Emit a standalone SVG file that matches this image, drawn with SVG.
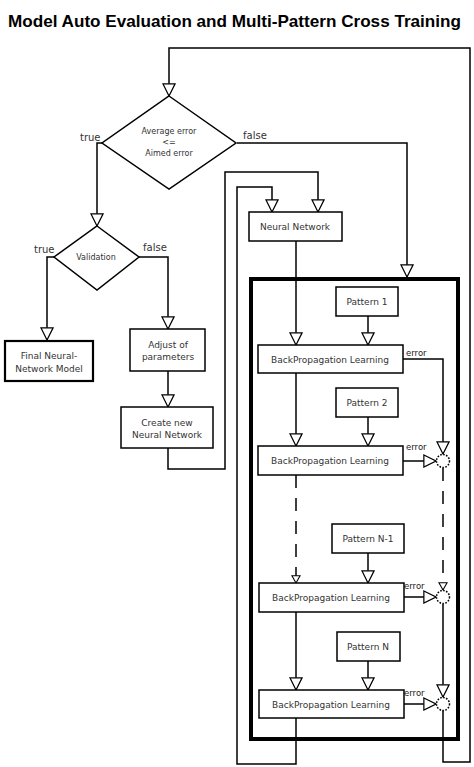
<svg xmlns="http://www.w3.org/2000/svg" width="474" height="767" viewBox="0 0 474 767">
<defs>
<marker id="arr" markerUnits="userSpaceOnUse" markerWidth="14" markerHeight="14" refX="13" refY="6.5" orient="auto" viewBox="-1 -1 15 15">
<path d="M0,0 L13,6.5 L0,13 Z" fill="#fff" stroke="#000" stroke-width="1.3"/>
</marker>
<marker id="arrs" markerUnits="userSpaceOnUse" markerWidth="10" markerHeight="10" refX="8" refY="4.5" orient="auto" viewBox="-1 -1 11 11">
<path d="M0,0 L8,4.5 L0,9 Z" fill="#fff" stroke="#000" stroke-width="1.2"/>
</marker>
</defs>
<style>
.box{fill:#fff;stroke:#000;stroke-width:1.5}
.thick{fill:#fff;stroke:#000;stroke-width:2.2}
.c{fill:none;stroke:#000;stroke-width:1.5;marker-end:url(#arr)}
.d{fill:none;stroke:#000;stroke-width:1.5;stroke-dasharray:13 10;marker-end:url(#arrs)}
.t{font-family:"DejaVu Sans",Verdana,sans-serif;font-size:9px;fill:#333;text-anchor:middle}
.s{font-family:"DejaVu Sans",Verdana,sans-serif;font-size:8px;fill:#333;text-anchor:middle}
.l{font-family:"DejaVu Sans",Verdana,sans-serif;font-size:10px;fill:#333}
.e{font-family:"DejaVu Sans",Verdana,sans-serif;font-size:8.5px;fill:#222}
.j{fill:#fff;stroke:#000;stroke-width:1.5;stroke-dasharray:1.6 1.4}
</style>
<rect width="474" height="767" fill="#fff"/>
<text x="8" y="27" font-family="'Liberation Sans',Arial,sans-serif" font-weight="bold" font-size="17" textLength="453" lengthAdjust="spacingAndGlyphs" fill="#000">Model Auto Evaluation and Multi-Pattern Cross Training</text>

<g id="loop-box">
<rect x="251" y="279" width="207" height="460" fill="none" stroke="#000" stroke-width="4"/>
</g>

<g id="connectors">
<path class="c" d="M443,710 V762 H470 V48 H169 V96"/>
<path class="c" d="M237,143 H407 V277"/>
<path class="c" d="M102,143 H97 V226"/>
<path class="c" d="M54,257 H47 V340"/>
<path class="c" d="M139,257 H168 V329"/>
<path class="c" d="M168,371 V407"/>
<path class="c" d="M168,448 V469 H225 V172 H318 V212"/>
<path class="c" d="M296,718 V764 H237 V187 H272 V212"/>
<path class="c" d="M296,241 V345"/>
<path class="c" d="M368,316 V345"/>
<path class="c" d="M296,373 V446"/>
<path class="c" d="M368,417 V446"/>
<path class="c" d="M403,359 H443 V454"/>
<path class="c" d="M403,461 H436"/>
<path class="d" d="M296,475 V583"/>
<path class="d" d="M443,468 V590"/>
<path class="c" d="M368,553 V583"/>
<path class="c" d="M404,597 H436"/>
<path class="c" d="M296,612 V690"/>
<path class="c" d="M368,661 V690"/>
<path class="c" d="M443,604 V697"/>
<path class="c" d="M404,704 H436"/>
<text class="l" x="80" y="141">true</text>
<text class="l" x="243" y="139">false</text>
<text class="l" x="34" y="253">true</text>
<text class="l" x="143" y="251">false</text>
<text class="e" x="406" y="356">error</text>
<text class="e" x="406" y="450">error</text>
<text class="e" x="404" y="589">error</text>
<text class="e" x="404" y="696">error</text>
</g>

<g id="decision-error">
<path class="box" d="M169,96 L236,143 L169,189 L102,143 Z"/>
<text class="s" x="169" y="134">Average error</text>
<text class="s" x="169" y="145">&lt;=</text>
<text class="s" x="169" y="156">Aimed error</text>
</g>

<g id="decision-validation">
<path class="box" d="M97,226 L139,257 L97,290 L54,257 Z"/>
<text class="s" x="96" y="260">Validation</text>
</g>

<g id="final-model">
<rect class="thick" x="5" y="341" width="88" height="40"/>
<text class="t" x="49" y="359" font-size="9.5">Final Neural-</text>
<text class="t" x="49" y="372" font-size="9.5">Network Model</text>
</g>

<g id="adjust">
<rect class="box" x="130" y="329" width="75" height="42"/>
<text class="t" x="168" y="348">Adjust of</text>
<text class="t" x="168" y="360">parameters</text>
</g>

<g id="create-nn">
<rect class="box" x="121" y="407" width="92" height="41"/>
<text class="t" x="167" y="426">Create new</text>
<text class="t" x="167" y="438">Neural Network</text>
</g>

<g id="neural-network">
<rect class="box" x="249" y="212" width="93" height="29"/>
<text class="t" x="295" y="230">Neural Network</text>
</g>

<g id="pattern-1">
<rect class="box" x="336" y="287" width="62" height="29"/>
<text class="t" x="367" y="305">Pattern 1</text>
</g>
<g id="bp-1">
<rect class="box" x="258" y="345" width="145" height="28"/>
<text class="t" x="330" y="363">BackPropagation Learning</text>
</g>

<g id="pattern-2">
<rect class="box" x="336" y="388" width="62" height="29"/>
<text class="t" x="367" y="406">Pattern 2</text>
</g>
<g id="bp-2">
<rect class="box" x="258" y="446" width="145" height="29"/>
<text class="t" x="330" y="464">BackPropagation Learning</text>
</g>
<g id="sum-2"><circle class="j" cx="443" cy="461" r="6.5"/></g>

<g id="pattern-n-1">
<rect class="box" x="332" y="524" width="72" height="29"/>
<text class="t" x="368" y="542">Pattern N-1</text>
</g>
<g id="bp-n-1">
<rect class="box" x="259" y="583" width="145" height="29"/>
<text class="t" x="331" y="601">BackPropagation Learning</text>
</g>
<g id="sum-n-1"><circle class="j" cx="443" cy="597" r="6.5"/></g>

<g id="pattern-n">
<rect class="box" x="337" y="632" width="63" height="29"/>
<text class="t" x="368" y="650">Pattern N</text>
</g>
<g id="bp-n">
<rect class="box" x="259" y="690" width="145" height="28"/>
<text class="t" x="331" y="708">BackPropagation Learning</text>
</g>
<g id="sum-n"><circle class="j" cx="443" cy="704" r="6.5"/></g>
</svg>
